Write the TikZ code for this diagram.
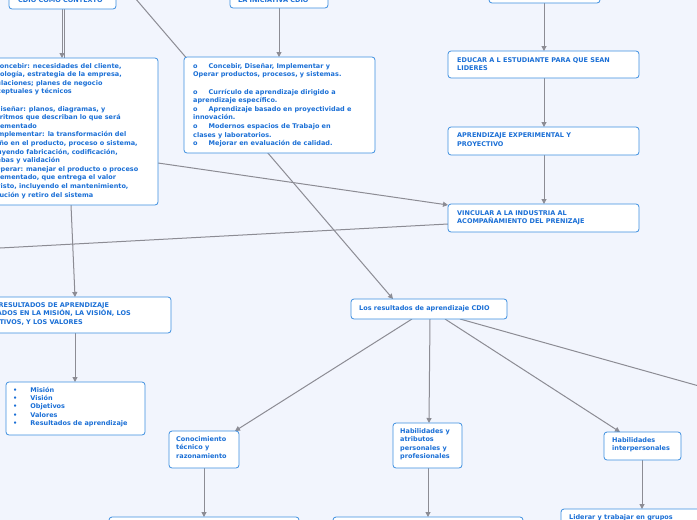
\documentclass[tikz,border=0pt]{standalone}
\usepackage{fontspec}
\setmainfont{DejaVu Sans}
\usetikzlibrary{arrows.meta}
\definecolor{bg}{HTML}{F2F5FD}
\definecolor{bd}{HTML}{3D8FE0}
\definecolor{tx}{HTML}{1A6FD6}
\definecolor{ln}{HTML}{8C8C94}
\tikzset{
 bx/.style={draw=bd,fill=white,rounded corners=3pt,line width=0.8pt},
 tt/.style={anchor=north west,align=left,text=tx,font=\bfseries\fontsize{6.5}{8.6}\selectfont,inner sep=0pt},
 ar/.style={draw=ln,line width=1pt,-{Triangle[length=5pt,width=5pt]}},
 pl/.style={draw=ln,line width=1pt}
}
\begin{document}
\begin{tikzpicture}[x=1pt,y=-1pt]
\useasboundingbox (0,0) rectangle (697,520);
\clip (0,0) rectangle (697,520);
\fill[bg] (0,0) rectangle (697,520);
\coordinate (offA) at (135,-2);
\coordinate (offB) at (0,248);
\coordinate (offC) at (699,386);
\draw[ar] (offA) -- (393,299);
\draw[ar] (62,9) -- (62,58);
\draw[pl] (64,9) -- (64,58);
\draw[ar] (279,8) -- (279,57);
\draw[ar] (544,3) -- (544,51);
\draw[ar] (544,78) -- (544,127);
\draw[ar] (544,155) -- (544,204);
\draw[ar] (158,163) -- (448,205);
\draw[pl] (448,224) -- (offB);
\draw[ar] (71,205) -- (75,297);
\draw[ar] (75,333) -- (75,382);
\draw[ar] (412,319) -- (235,431);
\draw[ar] (430,319) -- (429,423);
\draw[ar] (445,319) -- (620,432);
\draw[pl] (460,319) -- (offC);
\draw[ar] (204,468) -- (204,517);
\draw[ar] (428,468) -- (428,517);
\draw[ar] (642,460) -- (642,509);
\draw[bx] (9,-10) rectangle (116,9);
\node[tt] (n1) at (18,-3) {CDIO COMO CONTEXTO};
\draw[bx] (230,-10) rectangle (328,8);
\node[tt] (n2) at (238,-3) {LA INICIATIVA CDIO};
\draw[bx] (489,-10) rectangle (600,3);
\draw[bx] (-10,58) rectangle (158,205);
\node[tt] (n3) at (-16,63) {o\quad Concebir: necesidades del cliente,\\tecnología, estrategia de la empresa,\\regulaciones; planes de negocio\\conceptuales y técnicos\\[8.6pt]o\quad Diseñar: planos, diagramas, y\\algoritmos que describan lo que será\\implementado\\o\quad Implementar: la transformación del\\diseño en el producto, proceso o sistema,\\incluyendo fabricación, codificación,\\pruebas y validación\\o\quad Operar: manejar el producto o proceso\\implementado, que entrega el valor\\previsto, incluyendo el mantenimiento,\\evolución y retiro del sistema};
\draw[bx] (184,57) rectangle (375,153);
\node[tt] (n4) at (193,63) {o\quad\ \ Concebir, Diseñar, Implementar y\\Operar productos, procesos, y sistemas.\\[8.6pt]o\quad\ \ Currículo de aprendizaje dirigido a\\aprendizaje específico.\\o\quad\ \ Aprendizaje basado en proyectividad e\\innovación.\\o\quad\ \ Modernos espacios de Trabajo en\\clases y laboratorios.\\o\quad\ \ Mejorar en evaluación de calidad.};
\draw[bx] (448,51) rectangle (639,78);
\node[tt] (n5) at (457,57) {EDUCAR A L ESTUDIANTE PARA QUE SEAN\\LIDERES};
\draw[bx] (448,127) rectangle (639,155);
\node[tt] (n6) at (457,133) {APRENDIZAJE EXPERIMENTAL Y\\PROYECTIVO};
\draw[bx] (448,204) rectangle (639,232);
\node[tt] (n7) at (457,210) {VINCULAR A LA INDUSTRIA AL\\ACOMPAÑAMIENTO DEL PRENIZAJE};
\draw[bx] (-20,297) rectangle (171,333);
\node[tt] (n8) at (-18,302) {LOS RESULTADOS DE APRENDIZAJE\\BASADOS EN LA MISIÓN, LA VISIÓN, LOS\\OBJETIVOS, Y LOS VALORES};
\draw[bx] (6,382) rectangle (145,435);
\node[tt,font=\bfseries\fontsize{6.5}{8.2}\selectfont] (n9) at (13,387) {•\qquad Misión\\•\qquad Visión\\•\qquad Objetivos\\•\qquad Valores\\•\qquad Resultados de aprendizaje};
\draw[bx] (351,299) rectangle (507,319);
\node[tt] (n10) at (359,305) {Los resultados de aprendizaje CDIO};
\draw[bx] (169,431) rectangle (239,468);
\node[tt] (n11) at (176,436) {Conocimiento\\técnico y\\razonamiento};
\draw[bx] (393,423) rectangle (462,468);
\node[tt] (n12) at (400,428) {Habilidades y\\atributos\\personales y\\profesionales};
\draw[bx] (604,432) rectangle (681,460);
\node[tt] (n13) at (612,437) {Habilidades\\interpersonales};
\draw[bx] (109,517) rectangle (299,530);
\draw[bx] (333,517) rectangle (523,530);
\draw[bx] (561,509) rectangle (710,530);
\node[tt] (n14) at (569,514) {Liderar y trabajar en grupos};
\end{tikzpicture}
\end{document}
